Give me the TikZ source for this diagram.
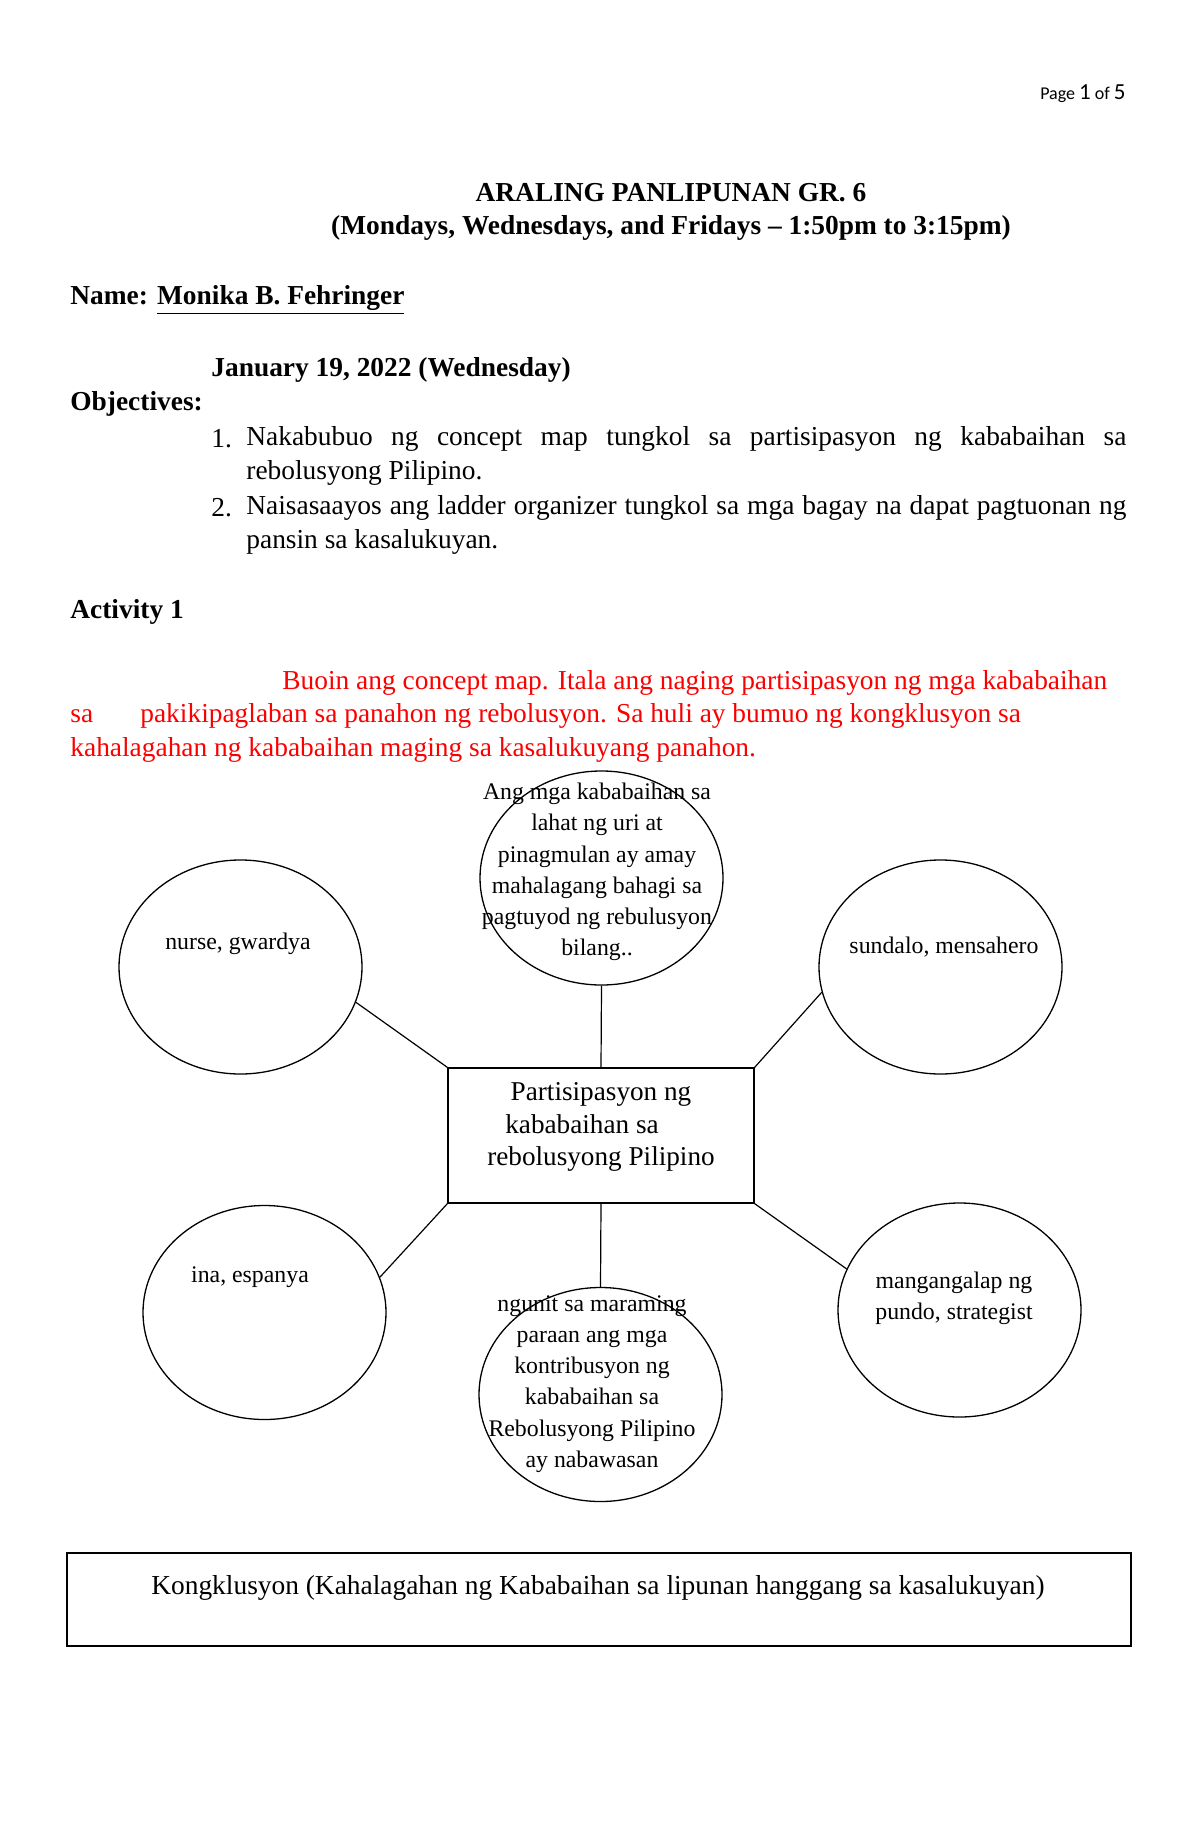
\documentclass[tikz,border=0pt]{standalone}
\usepackage{fontspec}
\setmainfont{Liberation Serif}
\newfontfamily\pagefont{Carlito}
\usepackage{xcolor}
\usetikzlibrary{shapes.geometric,positioning}
\definecolor{instrred}{RGB}{250,0,0}

\begin{document}
\begin{tikzpicture}[
  x=0.5pt, y=-0.5pt,
  txt/.style = {anchor=west, inner sep=0pt, font=\fontsize{13.7}{16}\selectfont},
  hd/.style = {txt, font=\fontsize{13.7}{16}\selectfont\bfseries},
  instr/.style = {txt, text=instrred},
  bub/.style = {draw, ellipse, line width=0.65pt, inner sep=0pt,
    minimum width=121.5pt, minimum height=107pt},
  btxt/.style = {align=center, inner sep=0pt, font=\fontsize{11.9}{15.6}\selectfont},
  link/.style = {line width=0.6pt},
]
\useasboundingbox (0,0) rectangle (1200,1835);

% header
\node[anchor=east, inner sep=0pt] (pg) at (1126,94)
  {\pagefont{\fontsize{9}{10}\selectfont Page }{\fontsize{11.5}{12}\selectfont 1}{\fontsize{9}{10}\selectfont\ of }{\fontsize{11.5}{12}\selectfont 5}};
\node[hd, anchor=center] (title) at (671,193) {ARALING PANLIPUNAN GR. 6};
\node[hd, anchor=center] (sched) at (671,228) {(Mondays, Wednesdays, and Fridays -- 1:50pm to 3:15pm)};
\node[hd] (name) at (70,300) {Name: \underline{Monika B. Fehringer}};
\node[hd] (date) at (211,370) {January 19, 2022 (Wednesday)};
\node[hd] (obj) at (70,404) {Objectives:};

% objectives
\node[txt] (o1n) at (211,439) {1.};
\node[txt] (o1a) at (246,439) {\makebox[440pt][s]{Nakabubuo ng concept map tungkol sa partisipasyon ng kababaihan sa}};
\node[txt] (o1b) at (246,473) {rebolusyong Pilipino.};
\node[txt] (o2n) at (211,508) {2.};
\node[txt] (o2a) at (246,508) {\makebox[440pt][s]{Naisasaayos ang ladder organizer tungkol sa mga bagay na dapat pagtuonan ng}};
\node[txt] (o2b) at (246,542) {pansin sa kasalukuyan.};

\node[hd] (act) at (70,612) {Activity 1};
\node[instr] (in1) at (282,683) {Buoin ang concept map. Itala ang naging partisipasyon ng mga kababaihan};
\node[instr] (in2) at (70,716) {\makebox[35pt][l]{sa}pakikipaglaban sa panahon ng rebolusyon. Sa huli ay bumuo ng kongklusyon sa};
\node[instr] (in3) at (70,750) {kahalagahan ng kababaihan maging sa kasalukuyang panahon.};

% concept map
\node[draw, line width=0.65pt, minimum width=153pt, minimum height=67.5pt] (core) at (601,1135.5) {};
\node[align=center, inner sep=0pt, font=\fontsize{13.6}{16.2}\selectfont] (core-t) at (601,1127)
  {Partisipasyon ng\\ kababaihan sa\hspace{19pt}\strut\\ rebolusyong Pilipino};

\node[bub] (top) at (601.5,878) {};
\node[bub] (nurse) at (240.5,967) {};
\node[bub] (sundalo) at (940.5,967) {};
\node[bub] (ina) at (264.5,1312.5) {};
\node[bub] (bottom) at (600.5,1394.5) {};
\node[bub] (pundo) at (959.5,1310) {};

\node[btxt] (top-t) at (597,872) {Ang mga kababaihan sa\\ lahat ng uri at\\ pinagmulan ay amay\\ mahalagang bahagi sa\\ pagtuyod ng rebulusyon\\ bilang..};
\node[btxt] (nurse-t) at (238,944) {nurse, gwardya};
\node[btxt] (sundalo-t) at (944,947) {sundalo, mensahero};
\node[btxt] (ina-t) at (250,1277) {ina, espanya};
\node[btxt] (bottom-t) at (592,1384) {ngunit sa maraming\\ paraan ang mga\\ kontribusyon ng\\ kababaihan sa\\ Rebolusyong Pilipino\\ ay nabawasan};
\node[btxt] (pundo-t) at (954,1298) {mangangalap ng\\ pundo, strategist};

\draw[link] (top.south) -- (core.north);
\draw[link] (core.south) -- (bottom.north);
\draw[link] (nurse.-17) -- (core.north west);
\draw[link] (sundalo.192) -- (core.north east);
\draw[link] (ina.17) -- (core.south west);
\draw[link] (pundo.160) -- (core.south east);

% conclusion
\node[draw, line width=1.4pt, minimum width=532pt, minimum height=46.5pt] (concl) at (599,1599.5) {};
\node[txt, anchor=center] (concl-t) at (598,1588)
  {Kongklusyon (Kahalagahan ng Kababaihan sa lipunan hanggang sa kasalukuyan)};
\end{tikzpicture}
\end{document}
